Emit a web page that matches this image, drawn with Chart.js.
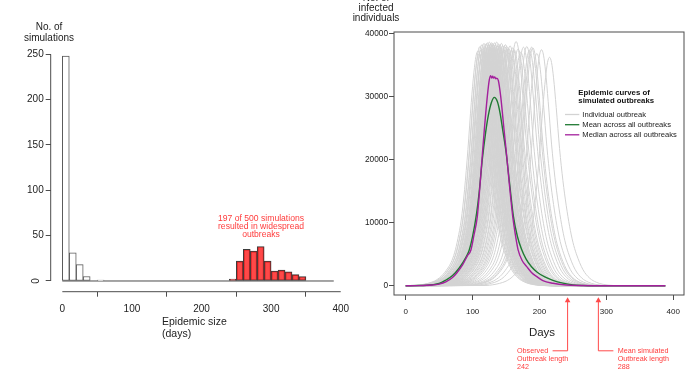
<!DOCTYPE html>
<html>
<head>
<meta charset="utf-8">
<script src="https://cdn.jsdelivr.net/npm/chart.js@4.4.0/dist/chart.umd.min.js"></script>
<style>
html,body{margin:0;padding:0;background:#fff;}
#wrap{position:relative;width:685px;height:371px;overflow:hidden;}
#left{position:absolute;left:0;top:0;}
#right{position:absolute;left:345px;top:0;}
</style>
</head>
<body>
<div id="wrap">
  <canvas id="left" width="360" height="371"></canvas>
  <canvas id="right" width="340" height="371"></canvas>
</div>
<script>
var FONT = "'Liberation Sans', Arial, Helvetica, sans-serif";
var AXIS = '#4d4d4d';
var RED = '#ff3b3b';

// ---- left panel: histogram of epidemic size, bins of 10 days
var binStarts = [0,10,20,30,40,50,60,70,80,90,100,110,120,130,140,150,160,170,180,190,
                 200,210,220,230,240,250,260,270,280,290,300,310,320,330,340,350,360,370,380];
var smallCounts = [248,31,18,5,0,1,0,0,0,0,0,0,0,0,0,0,0,0,0,0,
                   0,0,0,0,0,0,0,0,0,0,0,0,0,0,0,0,0,0,0];
var outbreakCounts = [0,0,0,0,0,0,0,0,0,0,0,0,0,0,0,0,0,0,0,0,
                      0,0,0,0,2,22,35,33,38,22,11,12,10,7,5,0,0,0,0];
var sizeTicks = [0,100,200,300,400];
var simTicks = [0,50,100,150,200,250];

// ---- right panel: epidemic curves
var dayTicks = [0,100,200,300,400];
var caseTicks = [0,10000,20000,30000,40000];

var meanDays  = [0,20,40,50,60,70,80,90,95,100,106,110,114.5,119.5,123.5,128,132.5,137,141,145,
                 150,155,161,167,173,180,188,197,208,220,235,250,265,280,388];
var meanCases = [0,20,150,350,900,1600,2800,4500,5670,7800,11500,15000,20000,24300,27000,29000,29840,29200,27400,24700,
                 21200,16500,11000,7800,5800,4200,3000,2100,1400,850,400,120,30,0,0];

var medianDays  = [0,20,40,50,60,70,76,85,92,97.5,102,107,110,114,117.5,122,125,127,128.5,130,
                   131.5,133,134.5,136,138.5,142,147,151,155,160,164,168,174,181,188,196,205,220,240,260,280,388];
var medianCases = [0,10,100,250,600,1300,1970,3300,4700,5670,8000,10950,14500,20000,24700,30000,32650,33300,32900,33200,
                   32900,33100,32800,32900,32500,30000,24700,20500,16000,10950,8000,5670,4000,3020,2100,1430,800,380,100,20,0,0];

// single outbreak profile: days from peak, share of peak
var profileDays  = [-95,-85,-75,-65,-55,-45,-40,-35,-30,-25,-20,-15,-10,-6,-3,0,3,6,10,15,20,25,30,35,40,50,60,70,80,95,110];
var profileShare = [0.001,0.004,0.01,0.02,0.04,0.075,0.1,0.14,0.2,0.28,0.41,0.58,0.78,0.91,0.977,1,0.977,0.91,0.78,0.6,0.46,0.35,0.26,0.19,0.14,0.07,0.033,0.015,0.006,0.001,0];

// peak day and peak size of each simulated outbreak
var peakDays = [108,110,111,113,114,115,116,117,118,119,
                120,120,121,122,122,123,124,124,125,126,
                126,127,127,128,129,129,130,131,131,132,
                133,133,134,135,136,136,137,138,139,140,
                141,142,143,144,145,146,148,149,151,152,
                154,156,158,160,162,165,168,172,176,181,
                185,188,190,196,203,215];
var peakCases = [37200,36800,37900,37400,38200,36900,37600,38400,37100,37800,
                 38300,36700,37500,38500,37000,37900,38200,36800,38600,37400,
                 37800,38300,37100,38500,37600,38000,38400,36900,38200,37700,
                 38500,37300,38100,37800,38600,37200,38000,37500,38300,37900,
                 38100,37400,38400,37600,38000,37300,37900,38200,37500,37800,
                 37600,38000,37300,37700,37400,38700,37500,37000,37800,37900,
                 37300,37800,37700,36800,37400,36200];
var firstDay = 0, lastDay = 388;

function pairs(xs, ys){
  return xs.map(function(x, i){ return {x: x, y: ys[i]}; });
}
function setTicks(values){
  return function(scale){ scale.ticks = values.map(function(v){ return {value: v}; }); };
}
function fitBox(w, h){
  return function(s){
    if (w !== null) s.width = w;
    if (h !== null) s.height = h;
    s.paddingLeft = 0; s.paddingRight = 0; s.paddingTop = 0; s.paddingBottom = 0;
  };
}
function txt(c, s, x, y, size, align, color, weight){
  c.font = (weight || 'normal') + ' ' + size + 'px ' + FONT;
  c.textAlign = align || 'center';
  c.textBaseline = 'middle';
  c.fillStyle = color || '#222';
  c.fillText(s, x, y);
}

// ---------------- histogram ----------------
var histDecor = {
  id: 'histDecor',
  afterDraw: function(chart){
    var c = chart.ctx, a = chart.chartArea, sx = chart.scales.x, sy = chart.scales.y;
    c.save();
    c.strokeStyle = AXIS; c.lineWidth = 1;
    c.beginPath();
    c.moveTo(sx.getPixelForValue(sizeTicks[0]), a.bottom);
    c.lineTo(sx.getPixelForValue(sizeTicks[sizeTicks.length-1]), a.bottom);
    c.moveTo(a.left, sy.getPixelForValue(simTicks[0]));
    c.lineTo(a.left, sy.getPixelForValue(simTicks[simTicks.length-1]));
    c.stroke();
    // rotated zero label
    c.save();
    c.translate(36, sy.getPixelForValue(0));
    c.rotate(-Math.PI/2);
    txt(c, '0', 0, 0, 10, 'center', '#222');
    c.restore();
    txt(c, 'No. of', 49, 27, 10);
    txt(c, 'simulations', 49, 38.5, 10);
    txt(c, 'Epidemic size', 162, 322.5, 10.5, 'left');
    txt(c, '(days)', 162, 334, 10.5, 'left');
    txt(c, '197 of 500 simulations', 261, 218.5, 8.6, 'center', RED);
    txt(c, 'resulted in widespread', 261, 226.8, 8.6, 'center', RED);
    txt(c, 'outbreaks', 261, 235, 8.6, 'center', RED);
    c.restore();
  }
};

new Chart(document.getElementById('left'), {
  type: 'bar',
  data: {
    datasets: [
      { label: 'small', data: pairs(binStarts.map(function(b){ return b + 5; }), smallCounts),
        backgroundColor: '#ffffff', borderColor: '#5a5a5a', borderWidth: 1, borderSkipped: false,
        grouped: false, barPercentage: 1, categoryPercentage: 1, order: 2 },
      { label: 'outbreaks', data: pairs(binStarts.map(function(b){ return b + 5; }), outbreakCounts),
        backgroundColor: 'rgba(255,20,20,0.78)', borderColor: '#3c3c3c', borderWidth: 1, borderSkipped: false,
        grouped: false, barPercentage: 1, categoryPercentage: 1, order: 1 },
      { type: 'line', label: 'base', data: [{x: binStarts[0], y: 0}, {x: binStarts[binStarts.length-1] + 10, y: 0}],
        borderColor: '#4a4a4a', borderWidth: 1, pointRadius: 0, order: 3 }
    ]
  },
  options: {
    responsive: false, animation: false, devicePixelRatio: 1,
    layout: { padding: { left: 0, right: 19, top: 54.3, bottom: 0 } },
    plugins: { legend: { display: false }, tooltip: { enabled: false } },
    scales: {
      x: { type: 'linear', min: -16.7, max: 400.4, offset: false,
           afterBuildTicks: setTicks(sizeTicks),
           afterFit: fitBox(null, 79.3),
           border: { display: false },
           grid: { drawOnChartArea: false, drawTicks: true, tickLength: 5, tickColor: AXIS },
           ticks: { font: { family: FONT, size: 10 }, color: '#222', padding: 7, maxRotation: 0,
                    callback: function(v){ return String(v); } } },
      y: { type: 'linear', min: -11.8, max: 250,
           afterBuildTicks: setTicks(simTicks),
           afterFit: fitBox(50.7, null),
           border: { display: false },
           grid: { drawOnChartArea: false, drawTicks: true, tickLength: 5, tickColor: AXIS },
           ticks: { font: { family: FONT, size: 10 }, color: '#222', padding: 2,
                    callback: function(v){ return v === 0 ? '' : String(v); } } }
    }
  },
  plugins: [histDecor]
});

// ---------------- epidemic curves ----------------
var curveSets = [
  { label: 'Median across all outbreaks', data: pairs(medianDays, medianCases),
    borderColor: '#a3209c', borderWidth: 1.4, pointRadius: 0, cubicInterpolationMode: 'monotone' },
  { label: 'Mean across all outbreaks', data: pairs(meanDays, meanCases),
    borderColor: '#1f7a32', borderWidth: 1.4, pointRadius: 0, cubicInterpolationMode: 'monotone' }
];
peakDays.forEach(function(pd, i){
  var pts = [{x: firstDay, y: 0}];
  profileDays.forEach(function(d, j){ pts.push({x: pd + d, y: profileShare[j] * peakCases[i]}); });
  pts.push({x: lastDay, y: 0});
  curveSets.push({ label: 'Individual outbreak', data: pts, borderColor: '#d3d3d3', borderWidth: 1,
                   pointRadius: 0, cubicInterpolationMode: 'monotone' });
});

var curveDecor = {
  id: 'curveDecor',
  afterDraw: function(chart){
    var c = chart.ctx, a = chart.chartArea, sx = chart.scales.x;
    c.save();
    c.strokeStyle = AXIS; c.lineWidth = 1;
    c.strokeRect(a.left, a.top, a.right - a.left, a.bottom - a.top);
    // axis titles
    txt(c, 'No. of', 31, -1.5, 10);
    txt(c, 'infected', 31, 8.5, 10);
    txt(c, 'individuals', 31, 18.5, 10);
    txt(c, 'Days', 197, 333, 11.5);
    // legend
    txt(c, 'Epidemic curves of', 233.3, 92.5, 7.8, 'left', '#111', 'bold');
    txt(c, 'simulated outbreaks', 233.3, 100.8, 7.8, 'left', '#111', 'bold');
    var rows = [['Individual outbreak', '#d3d3d3', 114.5], ['Mean across all outbreaks', '#1f7a32', 124.7],
                ['Median across all outbreaks', '#a3209c', 134.8]];
    rows.forEach(function(r){
      c.strokeStyle = r[1]; c.lineWidth = 1.3;
      c.beginPath(); c.moveTo(220, r[2]); c.lineTo(234.3, r[2]); c.stroke();
      txt(c, r[0], 237.3, r[2], 7.6, 'left', '#222');
    });
    // outbreak length markers
    var marks = [[242, -1, ['Observed', 'Outbreak length', '242']],
                 [288, 1, ['Mean simulated', 'Outbreak length', '288']]];
    marks.forEach(function(m){
      var x = sx.getPixelForValue(m[0]), tip = a.bottom + 2.3, yEnd = 350.8;
      c.fillStyle = '#ff4a4a'; c.strokeStyle = '#ff4a4a'; c.lineWidth = 1;
      c.beginPath(); c.moveTo(x, tip); c.lineTo(x - 2.8, tip + 5); c.lineTo(x + 2.8, tip + 5); c.closePath(); c.fill();
      c.beginPath(); c.moveTo(x, tip + 4); c.lineTo(x, yEnd); c.lineTo(x + m[1] * 15, yEnd); c.stroke();
      var tx = m[1] < 0 ? x - 50.6 : x + 19.4;
      txt(c, m[2][0], tx, 351, 7.2, 'left', RED);
      txt(c, m[2][1], tx, 359.3, 7.2, 'left', RED);
      txt(c, m[2][2], tx, 367.5, 7.2, 'left', RED);
    });
    c.restore();
  }
};

new Chart(document.getElementById('right'), {
  type: 'line',
  data: { datasets: curveSets },
  options: {
    responsive: false, animation: false, devicePixelRatio: 1,
    layout: { padding: { left: 0, right: 1, top: 32, bottom: 0 } },
    plugins: { legend: { display: false }, tooltip: { enabled: false } },
    scales: {
      x: { type: 'linear', min: -17.5, max: 416,
           afterBuildTicks: setTicks(dayTicks),
           afterFit: fitBox(null, 76),
           border: { display: false },
           grid: { drawOnChartArea: false, drawTicks: true, tickLength: 5, tickColor: AXIS },
           ticks: { font: { family: FONT, size: 8 }, color: '#222', padding: 6.5, maxRotation: 0,
                    callback: function(v){ return String(v); } } },
      y: { type: 'linear', min: -1474, max: 40206,
           afterBuildTicks: setTicks(caseTicks),
           afterFit: fitBox(49, null),
           border: { display: false },
           grid: { drawOnChartArea: false, drawTicks: true, tickLength: 5, tickColor: AXIS },
           ticks: { font: { family: FONT, size: 8.3 }, color: '#222', padding: 1,
                    callback: function(v){ return String(v); } } }
    }
  },
  plugins: [curveDecor]
});
</script>
</body>
</html>
